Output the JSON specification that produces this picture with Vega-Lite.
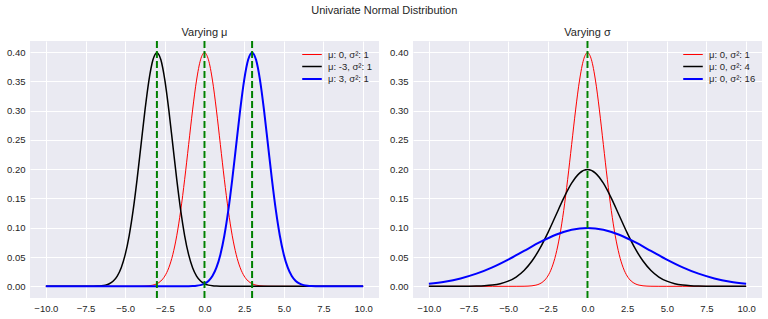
{
  "$schema": "https://vega.github.io/schema/vega-lite/v6.json",
  "padding": {"left": 6, "top": 5, "right": 5, "bottom": 5},
  "background": "white",
  "title": {"text": "Univariate Normal Distribution", "anchor": "middle", "fontSize": 11, "fontWeight": "normal", "font": "Liberation Sans", "color": "#262626", "offset": 11},
  "datasets": {
    "left": [
      {"s": "μ: 0, σ²: 1", "x": -10, "y": 0},
      {"s": "μ: 0, σ²: 1", "x": -6, "y": 0},
      {"s": "μ: 0, σ²: 1", "x": -5, "y": 0.0000015},
      {"s": "μ: 0, σ²: 1", "x": -4.5, "y": 0.000016},
      {"s": "μ: 0, σ²: 1", "x": -4, "y": 0.000134},
      {"s": "μ: 0, σ²: 1", "x": -3.75, "y": 0.000353},
      {"s": "μ: 0, σ²: 1", "x": -3.5, "y": 0.000873},
      {"s": "μ: 0, σ²: 1", "x": -3.25, "y": 0.002029},
      {"s": "μ: 0, σ²: 1", "x": -3, "y": 0.004432},
      {"s": "μ: 0, σ²: 1", "x": -2.75, "y": 0.009094},
      {"s": "μ: 0, σ²: 1", "x": -2.5, "y": 0.017528},
      {"s": "μ: 0, σ²: 1", "x": -2.25, "y": 0.03174},
      {"s": "μ: 0, σ²: 1", "x": -2, "y": 0.053991},
      {"s": "μ: 0, σ²: 1", "x": -1.75, "y": 0.086277},
      {"s": "μ: 0, σ²: 1", "x": -1.5, "y": 0.129518},
      {"s": "μ: 0, σ²: 1", "x": -1.25, "y": 0.182649},
      {"s": "μ: 0, σ²: 1", "x": -1, "y": 0.241971},
      {"s": "μ: 0, σ²: 1", "x": -0.75, "y": 0.301137},
      {"s": "μ: 0, σ²: 1", "x": -0.5, "y": 0.352065},
      {"s": "μ: 0, σ²: 1", "x": -0.25, "y": 0.386668},
      {"s": "μ: 0, σ²: 1", "x": 0, "y": 0.398942},
      {"s": "μ: 0, σ²: 1", "x": 0.25, "y": 0.386668},
      {"s": "μ: 0, σ²: 1", "x": 0.5, "y": 0.352065},
      {"s": "μ: 0, σ²: 1", "x": 0.75, "y": 0.301137},
      {"s": "μ: 0, σ²: 1", "x": 1, "y": 0.241971},
      {"s": "μ: 0, σ²: 1", "x": 1.25, "y": 0.182649},
      {"s": "μ: 0, σ²: 1", "x": 1.5, "y": 0.129518},
      {"s": "μ: 0, σ²: 1", "x": 1.75, "y": 0.086277},
      {"s": "μ: 0, σ²: 1", "x": 2, "y": 0.053991},
      {"s": "μ: 0, σ²: 1", "x": 2.25, "y": 0.03174},
      {"s": "μ: 0, σ²: 1", "x": 2.5, "y": 0.017528},
      {"s": "μ: 0, σ²: 1", "x": 2.75, "y": 0.009094},
      {"s": "μ: 0, σ²: 1", "x": 3, "y": 0.004432},
      {"s": "μ: 0, σ²: 1", "x": 3.25, "y": 0.002029},
      {"s": "μ: 0, σ²: 1", "x": 3.5, "y": 0.000873},
      {"s": "μ: 0, σ²: 1", "x": 3.75, "y": 0.000353},
      {"s": "μ: 0, σ²: 1", "x": 4, "y": 0.000134},
      {"s": "μ: 0, σ²: 1", "x": 4.5, "y": 0.000016},
      {"s": "μ: 0, σ²: 1", "x": 5, "y": 0.0000015},
      {"s": "μ: 0, σ²: 1", "x": 6, "y": 0},
      {"s": "μ: 0, σ²: 1", "x": 10, "y": 0},

      {"s": "μ: -3, σ²: 1", "x": -10, "y": 0},
      {"s": "μ: -3, σ²: 1", "x": -9, "y": 0},
      {"s": "μ: -3, σ²: 1", "x": -8, "y": 0.0000015},
      {"s": "μ: -3, σ²: 1", "x": -7.5, "y": 0.000016},
      {"s": "μ: -3, σ²: 1", "x": -7, "y": 0.000134},
      {"s": "μ: -3, σ²: 1", "x": -6.75, "y": 0.000353},
      {"s": "μ: -3, σ²: 1", "x": -6.5, "y": 0.000873},
      {"s": "μ: -3, σ²: 1", "x": -6.25, "y": 0.002029},
      {"s": "μ: -3, σ²: 1", "x": -6, "y": 0.004432},
      {"s": "μ: -3, σ²: 1", "x": -5.75, "y": 0.009094},
      {"s": "μ: -3, σ²: 1", "x": -5.5, "y": 0.017528},
      {"s": "μ: -3, σ²: 1", "x": -5.25, "y": 0.03174},
      {"s": "μ: -3, σ²: 1", "x": -5, "y": 0.053991},
      {"s": "μ: -3, σ²: 1", "x": -4.75, "y": 0.086277},
      {"s": "μ: -3, σ²: 1", "x": -4.5, "y": 0.129518},
      {"s": "μ: -3, σ²: 1", "x": -4.25, "y": 0.182649},
      {"s": "μ: -3, σ²: 1", "x": -4, "y": 0.241971},
      {"s": "μ: -3, σ²: 1", "x": -3.75, "y": 0.301137},
      {"s": "μ: -3, σ²: 1", "x": -3.5, "y": 0.352065},
      {"s": "μ: -3, σ²: 1", "x": -3.25, "y": 0.386668},
      {"s": "μ: -3, σ²: 1", "x": -3, "y": 0.398942},
      {"s": "μ: -3, σ²: 1", "x": -2.75, "y": 0.386668},
      {"s": "μ: -3, σ²: 1", "x": -2.5, "y": 0.352065},
      {"s": "μ: -3, σ²: 1", "x": -2.25, "y": 0.301137},
      {"s": "μ: -3, σ²: 1", "x": -2, "y": 0.241971},
      {"s": "μ: -3, σ²: 1", "x": -1.75, "y": 0.182649},
      {"s": "μ: -3, σ²: 1", "x": -1.5, "y": 0.129518},
      {"s": "μ: -3, σ²: 1", "x": -1.25, "y": 0.086277},
      {"s": "μ: -3, σ²: 1", "x": -1, "y": 0.053991},
      {"s": "μ: -3, σ²: 1", "x": -0.75, "y": 0.03174},
      {"s": "μ: -3, σ²: 1", "x": -0.5, "y": 0.017528},
      {"s": "μ: -3, σ²: 1", "x": -0.25, "y": 0.009094},
      {"s": "μ: -3, σ²: 1", "x": 0, "y": 0.004432},
      {"s": "μ: -3, σ²: 1", "x": 0.25, "y": 0.002029},
      {"s": "μ: -3, σ²: 1", "x": 0.5, "y": 0.000873},
      {"s": "μ: -3, σ²: 1", "x": 0.75, "y": 0.000353},
      {"s": "μ: -3, σ²: 1", "x": 1, "y": 0.000134},
      {"s": "μ: -3, σ²: 1", "x": 1.5, "y": 0.000016},
      {"s": "μ: -3, σ²: 1", "x": 2, "y": 0.0000015},
      {"s": "μ: -3, σ²: 1", "x": 3, "y": 0},
      {"s": "μ: -3, σ²: 1", "x": 10, "y": 0},

      {"s": "μ: 3, σ²: 1", "x": -10, "y": 0},
      {"s": "μ: 3, σ²: 1", "x": -3, "y": 0},
      {"s": "μ: 3, σ²: 1", "x": -2, "y": 0.0000015},
      {"s": "μ: 3, σ²: 1", "x": -1.5, "y": 0.000016},
      {"s": "μ: 3, σ²: 1", "x": -1, "y": 0.000134},
      {"s": "μ: 3, σ²: 1", "x": -0.75, "y": 0.000353},
      {"s": "μ: 3, σ²: 1", "x": -0.5, "y": 0.000873},
      {"s": "μ: 3, σ²: 1", "x": -0.25, "y": 0.002029},
      {"s": "μ: 3, σ²: 1", "x": 0, "y": 0.004432},
      {"s": "μ: 3, σ²: 1", "x": 0.25, "y": 0.009094},
      {"s": "μ: 3, σ²: 1", "x": 0.5, "y": 0.017528},
      {"s": "μ: 3, σ²: 1", "x": 0.75, "y": 0.03174},
      {"s": "μ: 3, σ²: 1", "x": 1, "y": 0.053991},
      {"s": "μ: 3, σ²: 1", "x": 1.25, "y": 0.086277},
      {"s": "μ: 3, σ²: 1", "x": 1.5, "y": 0.129518},
      {"s": "μ: 3, σ²: 1", "x": 1.75, "y": 0.182649},
      {"s": "μ: 3, σ²: 1", "x": 2, "y": 0.241971},
      {"s": "μ: 3, σ²: 1", "x": 2.25, "y": 0.301137},
      {"s": "μ: 3, σ²: 1", "x": 2.5, "y": 0.352065},
      {"s": "μ: 3, σ²: 1", "x": 2.75, "y": 0.386668},
      {"s": "μ: 3, σ²: 1", "x": 3, "y": 0.398942},
      {"s": "μ: 3, σ²: 1", "x": 3.25, "y": 0.386668},
      {"s": "μ: 3, σ²: 1", "x": 3.5, "y": 0.352065},
      {"s": "μ: 3, σ²: 1", "x": 3.75, "y": 0.301137},
      {"s": "μ: 3, σ²: 1", "x": 4, "y": 0.241971},
      {"s": "μ: 3, σ²: 1", "x": 4.25, "y": 0.182649},
      {"s": "μ: 3, σ²: 1", "x": 4.5, "y": 0.129518},
      {"s": "μ: 3, σ²: 1", "x": 4.75, "y": 0.086277},
      {"s": "μ: 3, σ²: 1", "x": 5, "y": 0.053991},
      {"s": "μ: 3, σ²: 1", "x": 5.25, "y": 0.03174},
      {"s": "μ: 3, σ²: 1", "x": 5.5, "y": 0.017528},
      {"s": "μ: 3, σ²: 1", "x": 5.75, "y": 0.009094},
      {"s": "μ: 3, σ²: 1", "x": 6, "y": 0.004432},
      {"s": "μ: 3, σ²: 1", "x": 6.25, "y": 0.002029},
      {"s": "μ: 3, σ²: 1", "x": 6.5, "y": 0.000873},
      {"s": "μ: 3, σ²: 1", "x": 6.75, "y": 0.000353},
      {"s": "μ: 3, σ²: 1", "x": 7, "y": 0.000134},
      {"s": "μ: 3, σ²: 1", "x": 7.5, "y": 0.000016},
      {"s": "μ: 3, σ²: 1", "x": 8, "y": 0.0000015},
      {"s": "μ: 3, σ²: 1", "x": 9, "y": 0},
      {"s": "μ: 3, σ²: 1", "x": 10, "y": 0}
    ],
    "right": [
      {"s": "μ: 0, σ²: 1", "x": -10, "y": 0},
      {"s": "μ: 0, σ²: 1", "x": -6, "y": 0},
      {"s": "μ: 0, σ²: 1", "x": -5, "y": 0.0000015},
      {"s": "μ: 0, σ²: 1", "x": -4.5, "y": 0.000016},
      {"s": "μ: 0, σ²: 1", "x": -4, "y": 0.000134},
      {"s": "μ: 0, σ²: 1", "x": -3.75, "y": 0.000353},
      {"s": "μ: 0, σ²: 1", "x": -3.5, "y": 0.000873},
      {"s": "μ: 0, σ²: 1", "x": -3.25, "y": 0.002029},
      {"s": "μ: 0, σ²: 1", "x": -3, "y": 0.004432},
      {"s": "μ: 0, σ²: 1", "x": -2.75, "y": 0.009094},
      {"s": "μ: 0, σ²: 1", "x": -2.5, "y": 0.017528},
      {"s": "μ: 0, σ²: 1", "x": -2.25, "y": 0.03174},
      {"s": "μ: 0, σ²: 1", "x": -2, "y": 0.053991},
      {"s": "μ: 0, σ²: 1", "x": -1.75, "y": 0.086277},
      {"s": "μ: 0, σ²: 1", "x": -1.5, "y": 0.129518},
      {"s": "μ: 0, σ²: 1", "x": -1.25, "y": 0.182649},
      {"s": "μ: 0, σ²: 1", "x": -1, "y": 0.241971},
      {"s": "μ: 0, σ²: 1", "x": -0.75, "y": 0.301137},
      {"s": "μ: 0, σ²: 1", "x": -0.5, "y": 0.352065},
      {"s": "μ: 0, σ²: 1", "x": -0.25, "y": 0.386668},
      {"s": "μ: 0, σ²: 1", "x": 0, "y": 0.398942},
      {"s": "μ: 0, σ²: 1", "x": 0.25, "y": 0.386668},
      {"s": "μ: 0, σ²: 1", "x": 0.5, "y": 0.352065},
      {"s": "μ: 0, σ²: 1", "x": 0.75, "y": 0.301137},
      {"s": "μ: 0, σ²: 1", "x": 1, "y": 0.241971},
      {"s": "μ: 0, σ²: 1", "x": 1.25, "y": 0.182649},
      {"s": "μ: 0, σ²: 1", "x": 1.5, "y": 0.129518},
      {"s": "μ: 0, σ²: 1", "x": 1.75, "y": 0.086277},
      {"s": "μ: 0, σ²: 1", "x": 2, "y": 0.053991},
      {"s": "μ: 0, σ²: 1", "x": 2.25, "y": 0.03174},
      {"s": "μ: 0, σ²: 1", "x": 2.5, "y": 0.017528},
      {"s": "μ: 0, σ²: 1", "x": 2.75, "y": 0.009094},
      {"s": "μ: 0, σ²: 1", "x": 3, "y": 0.004432},
      {"s": "μ: 0, σ²: 1", "x": 3.25, "y": 0.002029},
      {"s": "μ: 0, σ²: 1", "x": 3.5, "y": 0.000873},
      {"s": "μ: 0, σ²: 1", "x": 3.75, "y": 0.000353},
      {"s": "μ: 0, σ²: 1", "x": 4, "y": 0.000134},
      {"s": "μ: 0, σ²: 1", "x": 4.5, "y": 0.000016},
      {"s": "μ: 0, σ²: 1", "x": 5, "y": 0.0000015},
      {"s": "μ: 0, σ²: 1", "x": 6, "y": 0},
      {"s": "μ: 0, σ²: 1", "x": 10, "y": 0},

      {"s": "μ: 0, σ²: 4", "x": -10, "y": 0.000001},
      {"s": "μ: 0, σ²: 4", "x": -9, "y": 0.000008},
      {"s": "μ: 0, σ²: 4", "x": -8, "y": 0.000067},
      {"s": "μ: 0, σ²: 4", "x": -7.5, "y": 0.000177},
      {"s": "μ: 0, σ²: 4", "x": -7, "y": 0.000437},
      {"s": "μ: 0, σ²: 4", "x": -6.5, "y": 0.001015},
      {"s": "μ: 0, σ²: 4", "x": -6, "y": 0.002216},
      {"s": "μ: 0, σ²: 4", "x": -5.5, "y": 0.004547},
      {"s": "μ: 0, σ²: 4", "x": -5, "y": 0.008764},
      {"s": "μ: 0, σ²: 4", "x": -4.5, "y": 0.01587},
      {"s": "μ: 0, σ²: 4", "x": -4, "y": 0.026995},
      {"s": "μ: 0, σ²: 4", "x": -3.5, "y": 0.043139},
      {"s": "μ: 0, σ²: 4", "x": -3, "y": 0.064759},
      {"s": "μ: 0, σ²: 4", "x": -2.5, "y": 0.091325},
      {"s": "μ: 0, σ²: 4", "x": -2, "y": 0.120985},
      {"s": "μ: 0, σ²: 4", "x": -1.5, "y": 0.150569},
      {"s": "μ: 0, σ²: 4", "x": -1, "y": 0.176033},
      {"s": "μ: 0, σ²: 4", "x": -0.5, "y": 0.193334},
      {"s": "μ: 0, σ²: 4", "x": 0, "y": 0.199471},
      {"s": "μ: 0, σ²: 4", "x": 0.5, "y": 0.193334},
      {"s": "μ: 0, σ²: 4", "x": 1, "y": 0.176033},
      {"s": "μ: 0, σ²: 4", "x": 1.5, "y": 0.150569},
      {"s": "μ: 0, σ²: 4", "x": 2, "y": 0.120985},
      {"s": "μ: 0, σ²: 4", "x": 2.5, "y": 0.091325},
      {"s": "μ: 0, σ²: 4", "x": 3, "y": 0.064759},
      {"s": "μ: 0, σ²: 4", "x": 3.5, "y": 0.043139},
      {"s": "μ: 0, σ²: 4", "x": 4, "y": 0.026995},
      {"s": "μ: 0, σ²: 4", "x": 4.5, "y": 0.01587},
      {"s": "μ: 0, σ²: 4", "x": 5, "y": 0.008764},
      {"s": "μ: 0, σ²: 4", "x": 5.5, "y": 0.004547},
      {"s": "μ: 0, σ²: 4", "x": 6, "y": 0.002216},
      {"s": "μ: 0, σ²: 4", "x": 6.5, "y": 0.001015},
      {"s": "μ: 0, σ²: 4", "x": 7, "y": 0.000437},
      {"s": "μ: 0, σ²: 4", "x": 7.5, "y": 0.000177},
      {"s": "μ: 0, σ²: 4", "x": 8, "y": 0.000067},
      {"s": "μ: 0, σ²: 4", "x": 9, "y": 0.000008},
      {"s": "μ: 0, σ²: 4", "x": 10, "y": 0.000001},

      {"s": "μ: 0, σ²: 16", "x": -10, "y": 0.004382},
      {"s": "μ: 0, σ²: 16", "x": -9, "y": 0.007935},
      {"s": "μ: 0, σ²: 16", "x": -8, "y": 0.013498},
      {"s": "μ: 0, σ²: 16", "x": -7, "y": 0.021569},
      {"s": "μ: 0, σ²: 16", "x": -6, "y": 0.03238},
      {"s": "μ: 0, σ²: 16", "x": -5, "y": 0.045662},
      {"s": "μ: 0, σ²: 16", "x": -4, "y": 0.060493},
      {"s": "μ: 0, σ²: 16", "x": -3, "y": 0.075284},
      {"s": "μ: 0, σ²: 16", "x": -2, "y": 0.088016},
      {"s": "μ: 0, σ²: 16", "x": -1, "y": 0.096667},
      {"s": "μ: 0, σ²: 16", "x": 0, "y": 0.099736},
      {"s": "μ: 0, σ²: 16", "x": 1, "y": 0.096667},
      {"s": "μ: 0, σ²: 16", "x": 2, "y": 0.088016},
      {"s": "μ: 0, σ²: 16", "x": 3, "y": 0.075284},
      {"s": "μ: 0, σ²: 16", "x": 4, "y": 0.060493},
      {"s": "μ: 0, σ²: 16", "x": 5, "y": 0.045662},
      {"s": "μ: 0, σ²: 16", "x": 6, "y": 0.03238},
      {"s": "μ: 0, σ²: 16", "x": 7, "y": 0.021569},
      {"s": "μ: 0, σ²: 16", "x": 8, "y": 0.013498},
      {"s": "μ: 0, σ²: 16", "x": 9, "y": 0.007935},
      {"s": "μ: 0, σ²: 16", "x": 10, "y": 0.004382}
    ],
    "muLeft": [{"mu": -3}, {"mu": 0}, {"mu": 3}],
    "muRight": [{"mu": 0}]
  },
  "spacing": 10,
  "hconcat": [
    {
      "width": 349,
      "height": 257,
      "title": {"text": "Varying μ"},
      "layer": [
        {
          "data": {"name": "left"},
          "mark": {"type": "line", "interpolate": "monotone", "clip": true},
          "encoding": {
            "x": {"field": "x", "type": "quantitative", "scale": {"domain": [-11, 11], "nice": false, "zero": false},
                  "axis": {"values": [-10, -7.5, -5, -2.5, 0, 2.5, 5, 7.5, 10], "format": ".1f"}},
            "y": {"field": "y", "type": "quantitative", "scale": {"domain": [-0.01995, 0.4188], "nice": false, "zero": false},
                  "axis": {"values": [0, 0.05, 0.1, 0.15, 0.2, 0.25, 0.3, 0.35, 0.4], "format": ".2f"}},
            "color": {"field": "s", "type": "nominal",
                      "scale": {"domain": ["μ: 0, σ²: 1", "μ: -3, σ²: 1", "μ: 3, σ²: 1"], "range": ["#ff0000", "#000000", "#0000ff"]},
                      "legend": {"title": null, "orient": "top-right"}},
            "strokeWidth": {"field": "s", "type": "nominal",
                      "scale": {"domain": ["μ: 0, σ²: 1", "μ: -3, σ²: 1", "μ: 3, σ²: 1"], "range": [1, 2, 3.5]},
                      "legend": {"title": null, "orient": "top-right"}}
          }
        },
        {
          "data": {"name": "muLeft"},
          "mark": {"type": "rule", "color": "green", "strokeWidth": 2, "strokeDash": [7, 3]},
          "encoding": {"x": {"field": "mu", "type": "quantitative"}}
        }
      ]
    },
    {
      "width": 349,
      "height": 257,
      "title": {"text": "Varying σ"},
      "layer": [
        {
          "data": {"name": "right"},
          "mark": {"type": "line", "interpolate": "monotone", "clip": true},
          "encoding": {
            "x": {"field": "x", "type": "quantitative", "scale": {"domain": [-11, 11], "nice": false, "zero": false},
                  "axis": {"values": [-10, -7.5, -5, -2.5, 0, 2.5, 5, 7.5, 10], "format": ".1f"}},
            "y": {"field": "y", "type": "quantitative", "scale": {"domain": [-0.01995, 0.4188], "nice": false, "zero": false},
                  "axis": {"values": [0, 0.05, 0.1, 0.15, 0.2, 0.25, 0.3, 0.35, 0.4], "format": ".2f"}},
            "color": {"field": "s", "type": "nominal",
                      "scale": {"domain": ["μ: 0, σ²: 1", "μ: 0, σ²: 4", "μ: 0, σ²: 16"], "range": ["#ff0000", "#000000", "#0000ff"]},
                      "legend": {"title": null, "orient": "top-right"}},
            "strokeWidth": {"field": "s", "type": "nominal",
                      "scale": {"domain": ["μ: 0, σ²: 1", "μ: 0, σ²: 4", "μ: 0, σ²: 16"], "range": [1, 2, 3.5]},
                      "legend": {"title": null, "orient": "top-right"}}
          }
        },
        {
          "data": {"name": "muRight"},
          "mark": {"type": "rule", "color": "green", "strokeWidth": 2, "strokeDash": [7, 3]},
          "encoding": {"x": {"field": "mu", "type": "quantitative"}}
        }
      ]
    }
  ],
  "resolve": {"scale": {"color": "independent", "strokeWidth": "independent", "x": "independent", "y": "independent"}, "legend": {"color": "independent", "strokeWidth": "independent"}},
  "config": {
    "font": "Liberation Sans",
    "view": {"fill": "#EAEAF2", "stroke": null},
    "title": {"fontSize": 11, "fontWeight": "normal", "color": "#262626", "offset": 2},
    "axis": {
      "grid": true, "gridColor": "#ffffff", "gridWidth": 1, "domain": false, "ticks": false,
      "labelColor": "#262626", "labelFontSize": 9.5, "labelPadding": 5, "title": null
    },
    "legend": {
      "symbolType": "M-1.5,0L1.5,0", "symbolSize": 170, "labelFontSize": 9.5, "labelColor": "#262626",
      "offset": 6, "padding": 0, "rowPadding": 0, "labelOffset": 8
    }
  }
}
